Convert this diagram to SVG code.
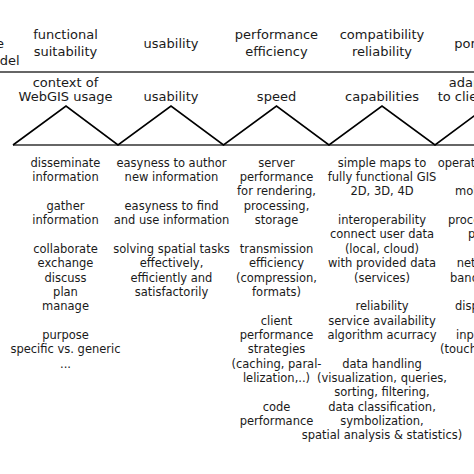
<svg xmlns="http://www.w3.org/2000/svg" width="474" height="474" viewBox="0 0 474 474">
<style>
text{font-family:"DejaVu Sans","Liberation Sans",sans-serif;fill:#1a1a1a}
.h{font-size:13px;text-anchor:middle}
.b{font-size:11.5px;text-anchor:middle}
.s{font-size:11.5px;text-anchor:start}
.ln{stroke:#333;stroke-width:1.3;fill:none}
.zz{stroke:#000;stroke-width:1.6;fill:none;stroke-linejoin:miter}
</style>
<rect width="474" height="474" fill="#fff"/>
<g id="connectors">
<line class="ln" x1="0" y1="72" x2="474" y2="72"/>
<line class="ln" x1="13" y1="145" x2="474" y2="145"/>
<path class="zz" d="M13,145 L66,106 L118,145 L171,106 L223.5,145 L276.5,106 L329,145 L382,106 L435,145 L487.5,106"/>
</g>
<g id="col0">
<text class="h" style="text-anchor:end" x="4" y="48">e</text>
<text class="h" style="text-anchor:end" x="19.5" y="65">del</text>
</g>
<g id="col1">
<text class="h" x="65.5" y="39">functional</text>
<text class="h" x="65.5" y="56">suitability</text>
<text class="h" x="65.5" y="86.5">context of</text>
<text class="h" x="65.5" y="100.5">WebGIS usage</text>
<text class="b"><tspan x="65.5" y="166.7">disseminate</tspan><tspan x="65.5" y="181.05">information</tspan><tspan x="65.5" y="209.75">gather</tspan><tspan x="65.5" y="224.1">information</tspan><tspan x="65.5" y="252.8">collaborate</tspan><tspan x="65.5" y="267.15">exchange</tspan><tspan x="65.5" y="281.5">discuss</tspan><tspan x="65.5" y="295.85">plan</tspan><tspan x="65.5" y="310.2">manage</tspan><tspan x="65.5" y="338.9">purpose</tspan><tspan x="65.5" y="353.25">specific vs. generic</tspan><tspan x="65.5" y="367.6">...</tspan></text>
</g>
<g id="col2">
<text class="h" x="171" y="48">usability</text>
<text class="h" x="171" y="100.5">usability</text>
<text class="b"><tspan x="171.5" y="166.7">easyness to author</tspan><tspan x="171.5" y="181.05">new information</tspan><tspan x="171.5" y="209.75">easyness to find</tspan><tspan x="171.5" y="224.1">and use information</tspan><tspan x="171.5" y="252.8">solving spatial tasks</tspan><tspan x="171.5" y="267.15">effectively,</tspan><tspan x="171.5" y="281.5">efficiently and</tspan><tspan x="171.5" y="295.85">satisfactorily</tspan></text>
</g>
<g id="col3">
<text class="h" x="276.5" y="39">performance</text>
<text class="h" x="276.5" y="56">efficiency</text>
<text class="h" x="276.5" y="100.5">speed</text>
<text class="b"><tspan x="276.5" y="166.7">server</tspan><tspan x="276.5" y="181.05">performance</tspan><tspan x="276.5" y="195.4">for rendering,</tspan><tspan x="276.5" y="209.75">processing,</tspan><tspan x="276.5" y="224.1">storage</tspan><tspan x="276.5" y="252.8">transmission</tspan><tspan x="276.5" y="267.15">efficiency</tspan><tspan x="276.5" y="281.5">(compression,</tspan><tspan x="276.5" y="295.85">formats)</tspan><tspan x="276.5" y="324.55">client</tspan><tspan x="276.5" y="338.9">performance</tspan><tspan x="276.5" y="353.25">strategies</tspan><tspan x="276.5" y="367.6">(caching, paral-</tspan><tspan x="276.5" y="381.95">lelization,..)</tspan><tspan x="276.5" y="410.65">code</tspan><tspan x="276.5" y="425">performance</tspan></text>
</g>
<g id="col4">
<text class="h" x="382" y="39">compatibility</text>
<text class="h" x="382" y="56">reliability</text>
<text class="h" x="382" y="100.5">capabilities</text>
<text class="b"><tspan x="382" y="166.7">simple maps to</tspan><tspan x="382" y="181.05">fully functional GIS</tspan><tspan x="382" y="195.4">2D, 3D, 4D</tspan><tspan x="382" y="224.1">interoperability</tspan><tspan x="382" y="238.45">connect user data</tspan><tspan x="382" y="252.8">(local, cloud)</tspan><tspan x="382" y="267.15">with provided data</tspan><tspan x="382" y="281.5">(services)</tspan><tspan x="382" y="310.2">reliability</tspan><tspan x="382" y="324.55">service availability</tspan><tspan x="382" y="338.9">algorithm acurracy</tspan><tspan x="382" y="367.6">data handling</tspan><tspan x="382" y="381.95">(visualization, queries,</tspan><tspan x="382" y="396.3">sorting, filtering,</tspan><tspan x="382" y="410.65">data classification,</tspan><tspan x="382" y="425">symbolization,</tspan><tspan x="382" y="439.35">spatial analysis &amp; statistics)</tspan></text>
</g>
<g id="col5">
<text class="h" x="487.5" y="48">portability</text>
<text class="h" x="487.5" y="87">adaptability</text>
<text class="h" x="487.5" y="101">to client device</text>
<text class="s"><tspan x="437.7" y="166.7">operating systems</tspan><tspan x="455" y="195.4">mobile apps</tspan><tspan x="448" y="224.1">processing power</tspan><tspan x="468" y="238.45">performance</tspan><tspan x="456.7" y="267.15">network</tspan><tspan x="450" y="281.5">bandwidth</tspan><tspan x="455" y="310.2">display size</tspan><tspan x="456" y="338.9">input</tspan><tspan x="440" y="353.25">(touch, mouse)</tspan></text>
</g>
</svg>
